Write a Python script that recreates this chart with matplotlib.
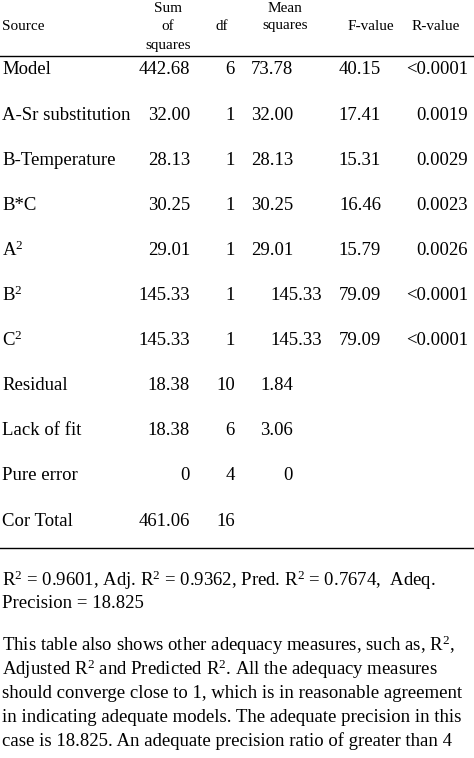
import matplotlib
matplotlib.use("Agg")
import matplotlib.pyplot as plt

plt.rcParams['font.family'] = ['Liberation Serif']
plt.rcParams['mathtext.fontset'] = 'custom'
plt.rcParams['mathtext.rm'] = 'Liberation Serif'
plt.rcParams['mathtext.it'] = 'Liberation Serif'
plt.rcParams['mathtext.default'] = 'rm'

sources = ["Model", "A-Sr substitution", "B-Temperature", "B*C", "A$^2$", "B$^2$", "C$^2$",
           "Residual", "Lack of fit", "Pure error", "Cor Total"]
sum_sq = ["442.68", "32.00", "28.13", "30.25", "29.01", "145.33", "145.33", "18.38", "18.38", "0", "461.06"]
df = ["6", "1", "1", "1", "1", "1", "1", "10", "6", "4", "16"]
mean_sq = ["73.78", "32.00", "28.13", "30.25", "29.01", "145.33", "145.33", "1.84", "3.06", "0", ""]
f_val = ["40.15", "17.41", "15.31", "16.46", "15.79", "79.09", "79.09", "", "", "", ""]
r_val = ["<0.0001", "0.0019", "0.0029", "0.0023", "0.0026", "<0.0001", "<0.0001", "", "", "", ""]

W, H = 474, 758
fig = plt.figure(figsize=(4.74, 7.58), dpi=100)
ax = fig.add_axes([0, 0, 1, 1])
ax.set_xlim(0, W); ax.set_ylim(H, 0); ax.axis('off')

hs = 11
ax.text(2, 26, "Source", fontsize=hs, va='center')
ax.text(168, 8, "Sum", fontsize=hs, va='center', ha='center')
ax.text(168, 26, "of", fontsize=hs, va='center', ha='center')
ax.text(168, 45, "squares", fontsize=hs, va='center', ha='center')
ax.text(222, 26, "df", fontsize=hs, va='center', ha='center')
ax.text(285, 8, "Mean", fontsize=hs, va='center', ha='center')
ax.text(285, 26, "squares", fontsize=hs, va='center', ha='center')
ax.text(371, 26, "F-value", fontsize=hs, va='center', ha='center')
ax.text(436, 26, "R-value", fontsize=hs, va='center', ha='center')
ax.plot([0, W], [56, 56], color='black', lw=1)

fs = 13.5
for i in range(len(sources)):
    y = 70 + i * 45.1
    ax.text(2, y, sources[i], fontsize=fs, va='center')
    ax.text(190, y, sum_sq[i], fontsize=fs, va='center', ha='right')
    ax.text(235, y, df[i], fontsize=fs, va='center', ha='right')
    if mean_sq[i]:
        ax.text(293 if len(mean_sq[i]) < 6 else 322, y, mean_sq[i], fontsize=fs, va='center', ha='right')
    ax.text(381, y, f_val[i], fontsize=fs, va='center', ha='right')
    ax.text(468, y, r_val[i], fontsize=fs, va='center', ha='right')
ax.plot([0, W], [548, 548], color='black', lw=1)

lines = [
    (580, "R$^2$ = 0.9601, Adj. R$^2$ = 0.9362, Pred. R$^2$ = 0.7674,  Adeq."),
    (603, "Precision = 18.825"),
    (645, "This table also shows other adequacy measures, such as, R$^2$,"),
    (669, "Adjusted R$^2$ and Predicted R$^2$. All the adequacy measures"),
    (693, "should converge close to 1, which is in reasonable agreement"),
    (717, "in indicating adequate models. The adequate precision in this"),
    (741, "case is 18.825. An adequate precision ratio of greater than 4"),
]
for y, t in lines:
    ax.text(2, y, t, fontsize=fs, va='center')

fig.savefig("out.png", dpi=100)
